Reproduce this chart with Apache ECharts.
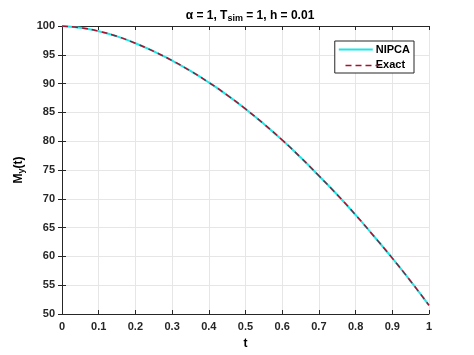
<!DOCTYPE html>
<html>
<head>
<meta charset="utf-8">
<script src="https://cdn.jsdelivr.net/npm/echarts@6/dist/echarts.min.js"></script>
<style>
  html, body { margin: 0; padding: 0; background: #fff; }
  #chart { width: 474px; height: 355px; }
</style>
</head>
<body>
<div id="chart"></div>
<script>
// M_y(t) for alpha = 1.
const tValues = [0, 0.05, 0.1, 0.15, 0.2, 0.25, 0.3, 0.35, 0.4, 0.45, 0.5,
  0.55, 0.6, 0.65, 0.7, 0.75, 0.8, 0.85, 0.9, 0.95, 1];
const nipca = [100, 99.7, 99.1, 98.2, 97.0, 95.6, 94.0, 92.2, 90.2, 88.0, 85.6,
  83.0, 80.2, 77.2, 74.0, 70.7, 67.2, 63.5, 59.7, 55.7, 51.5];
const exact = [100, 99.7, 99.1, 98.2, 97.0, 95.6, 94.0, 92.2, 90.2, 88.0, 85.6,
  83.0, 80.2, 77.2, 74.0, 70.7, 67.2, 63.5, 59.7, 55.7, 51.5];

const FONT = "Liberation Sans, Arial, sans-serif";
const AXIS_COLOR = "#262626";

const pairs = (ys) => tValues.map((t, i) => [t, ys[i]]);

const chart = echarts.init(document.getElementById("chart"), null, { renderer: "canvas" });

const tick = { show: true, inside: true, length: 4, lineStyle: { color: AXIS_COLOR } };
const axisLine = { show: true, lineStyle: { color: AXIS_COLOR, width: 1 } };
const subStyle = { fontSize: 9, fontWeight: "bold", verticalAlign: "bottom", padding: [6, 0, 0, 0], color: "#000" };

chart.setOption({
  backgroundColor: "#fff",
  animation: false,
  textStyle: { fontFamily: FONT },
  title: {
    text: "α = 1, T{sub|sim} = 1, h = 0.01",
    left: 245,
    textAlign: "center",
    top: 3,
    textStyle: {
      fontSize: 12,
      fontWeight: "bold",
      color: "#000",
      fontFamily: FONT,
      rich: { sub: subStyle },
    },
  },
  grid: { left: 62, right: 45, top: 26, bottom: 39 },
  legend: {
    right: 60,
    top: 41,
    orient: "vertical",
    itemWidth: 34,
    itemHeight: 10,
    itemGap: 4,
    padding: [3, 4, 3, 4],
    backgroundColor: "#fff",
    borderColor: "#262626",
    borderWidth: 1,
    borderRadius: 0,
    textStyle: { fontSize: 11, fontWeight: "bold", color: "#000", fontFamily: FONT, padding: [0, 0, 0, -2] },
    data: [
      { name: "NIPCA", icon: "path://M0,4 L34,4 L34,6 L0,6 Z" },
      { name: "Exact", icon: "none" },
    ],
  },
  xAxis: [
    {
      type: "value",
      min: 0,
      max: 1,
      interval: 0.1,
      name: "t",
      nameLocation: "middle",
      nameGap: 24,
      nameTextStyle: { fontSize: 12, fontWeight: "bold", color: "#000" },
      axisLine,
      axisTick: tick,
      axisLabel: { fontSize: 11, fontWeight: "bold", color: "#262626", margin: 7 },
      splitLine: { show: true, lineStyle: { color: "#e6e6e6", width: 1 } },
    },
    {
      type: "value",
      position: "top",
      min: 0,
      max: 1,
      interval: 0.1,
      axisLine,
      axisTick: tick,
      axisLabel: { show: false },
      splitLine: { show: false },
    },
  ],
  yAxis: [
    {
      type: "value",
      min: 50,
      max: 100,
      interval: 5,
      name: "M{sub|y}(t)",
      nameLocation: "middle",
      nameRotate: 90,
      nameGap: 32,
      nameTextStyle: {
        fontSize: 12,
        fontWeight: "bold",
        color: "#000",
        rich: { sub: subStyle },
      },
      axisLine,
      axisTick: tick,
      axisLabel: { fontSize: 11, fontWeight: "bold", color: "#262626", margin: 7 },
      splitLine: { show: true, lineStyle: { color: "#e6e6e6", width: 1 } },
    },
    {
      type: "value",
      position: "right",
      min: 50,
      max: 100,
      interval: 5,
      axisLine,
      axisTick: tick,
      axisLabel: { show: false },
      splitLine: { show: false },
    },
  ],
  series: [
    {
      name: "NIPCA",
      type: "line",
      data: pairs(nipca),
      smooth: true,
      showSymbol: false,
      itemStyle: { color: "#1fe6e6" },
      lineStyle: { color: "#1fe6e6", width: 2 },
      z: 2,
    },
    {
      name: "Exact",
      type: "line",
      data: pairs(exact),
      smooth: true,
      showSymbol: false,
      itemStyle: { color: "#a2142f" },
      lineStyle: { color: "#a2142f", width: 1.5, type: [6, 4] },
      z: 3,
    },
  ],
  graphic: [
    // dashed sample for the "Exact" legend entry (legend icons can't be dashed)
    {
      type: "line",
      left: 343,
      top: 63,
      shape: { x1: 0, y1: 0, x2: 34, y2: 0 },
      style: { stroke: "#a2142f", lineWidth: 1.5, lineDash: [6, 4] },
      z: 100,
    },
  ],
});
</script>
</body>
</html>
